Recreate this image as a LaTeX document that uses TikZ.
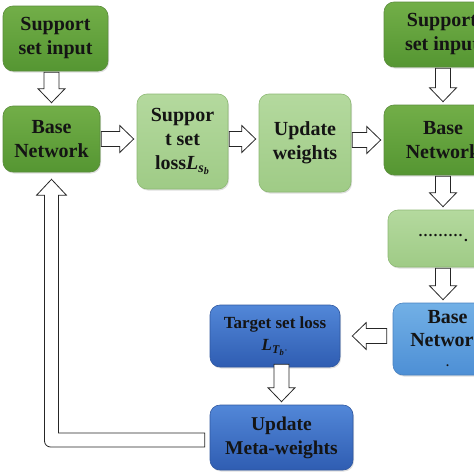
\documentclass[tikz,border=0pt]{standalone}
\usepackage{fontspec}
\setmainfont{Liberation Serif}
\usepackage{amsmath}
\usetikzlibrary{calc,shadows}
\definecolor{dgTop}{HTML}{72AE48}
\definecolor{dgBot}{HTML}{559632}
\definecolor{dgLine}{HTML}{5A8C3C}
\definecolor{lgTop}{HTML}{B4D99E}
\definecolor{lgBot}{HTML}{9FCB86}
\definecolor{lgLine}{HTML}{8DB874}
\definecolor{bTop}{HTML}{5287D8}
\definecolor{bBot}{HTML}{2F5DB2}
\definecolor{bLine}{HTML}{2F57A0}
\definecolor{lbTop}{HTML}{72B0E6}
\definecolor{lbBot}{HTML}{4D8FD5}
\definecolor{lbLine}{HTML}{4A82C0}
\newcommand{\bi}[1]{\textbf{\textit{#1}}}
\begin{document}
\begin{tikzpicture}[x=1pt,y=-1pt,
  box/.style={rectangle, rounded corners=10pt, inner sep=0pt, align=center,
    font=\fontsize{20}{24}\selectfont\bfseries, text=black!92, line width=0.6pt,
    drop shadow={shadow xshift=1pt, shadow yshift=-1.5pt, opacity=0.25}},
  dg/.style={box, top color=dgTop, bottom color=dgBot, draw=dgLine},
  lg/.style={box, top color=lgTop, bottom color=lgBot, draw=lgLine},
  bl/.style={box, top color=bTop, bottom color=bBot, draw=bLine},
  lb/.style={box, top color=lbTop, bottom color=lbBot, draw=lbLine},
  blockarrow/.style={draw=black!85, fill=white, line width=0.8pt, line join=miter,
    to path={let \p1=(\tikztostart), \p2=(\tikztotarget),
      \n1={veclen(\x2-\x1,\y2-\y1)}, \n2={(\x2-\x1)/\n1}, \n3={(\y2-\y1)/\n1} in
      ({\x1+1*\n2+7.5*\n3},{\y1+1*\n3-7.5*\n2})
      -- ({\x1+(\n1-17)*\n2+7.5*\n3},{\y1+(\n1-17)*\n3-7.5*\n2})
      -- ({\x1+(\n1-17)*\n2+13.5*\n3},{\y1+(\n1-17)*\n3-13.5*\n2})
      -- ({\x1+(\n1-3)*\n2},{\y1+(\n1-3)*\n3})
      -- ({\x1+(\n1-17)*\n2-13.5*\n3},{\y1+(\n1-17)*\n3+13.5*\n2})
      -- ({\x1+(\n1-17)*\n2-7.5*\n3},{\y1+(\n1-17)*\n3+7.5*\n2})
      -- ({\x1+1*\n2-7.5*\n3},{\y1+1*\n3+7.5*\n2}) -- cycle}}
]
\useasboundingbox (0,0) rectangle (474,474);
\clip (0,0) rectangle (474,474);

\node[dg, minimum width=105pt, minimum height=65pt] (sin1) at (55.5,38.5) {Support\\set input};
\node[dg, minimum width=97pt, minimum height=66pt] (base1) at (51.5,139) {Base\\Network};
\node[lg, minimum width=91pt, minimum height=95pt] (loss) at (182.5,141.5)
  {Suppor\\t set\\loss$\bi{L}_{\bi{s}_{\bi{b}}}$};
\node[lg, minimum width=92pt, minimum height=98pt] (upd) at (305,143) {Update\\weights};
\node[dg, minimum width=116pt, minimum height=65pt] (sin2) at (442,34.5) {Support\\set input};
\node[dg, minimum width=118pt, minimum height=70pt] (base2) at (443,140) {Base\\Network};
\node[lg, minimum width=110pt, minimum height=57pt, font=\fontsize{15}{18}\selectfont\bfseries] (dots) at (443,238.5)
  {·········\kern1pt\raisebox{-1pt}{.}};
\node[lb, minimum width=109pt, minimum height=72pt, font=\fontsize{20}{22.5}\selectfont\bfseries] (base3) at (447.5,339)
  {Base\\Network\\[-2pt]{\fontsize{12}{12}\selectfont .}};
\node[bl, minimum width=130pt, minimum height=62pt, font=\fontsize{17}{22}\selectfont\bfseries] (tloss) at (275,336)
  {Target set loss\\$\bi{L}_{\bi{T}_{\bi{b}}\cdot}$};
\node[bl, minimum width=143pt, minimum height=65pt, font=\fontsize{19.5}{24}\selectfont\bfseries] (meta) at (281.5,437.5)
  {Update\\Meta-weights};

\draw[blockarrow] (sin1.south -| base1.north) to (base1.north);
\draw[blockarrow] (base1.east) to (base1.east -| loss.west);
\draw[blockarrow] (loss.east |- base1.east) to (loss.east |- base1.east -| upd.west);
\draw[blockarrow] (upd.east |- base2.west) to (base2.west);
\draw[blockarrow] (sin2.south -| base2.north) to (base2.north);
\draw[blockarrow] (base2.south) to (base2.south |- dots.north);
\draw[blockarrow] (dots.south) to (dots.south |- base3.north);
\draw[blockarrow] ([xshift=-5pt]base3.west |- tloss.east) to ([xshift=9pt]tloss.east);
\draw[blockarrow] ([yshift=4pt]tloss.south -| meta.north) to (meta.north);

\draw[draw=black!85, fill=white, line width=0.8pt]
  let \p1=(meta.west), \p2=(base1.south) in
  (\x1-5pt,\y1+4.5pt) -- (\x2+7pt,\y1+4.5pt) -- (\x2+7pt,\y2-23pt)
  -- (\x2+15pt,\y2-23pt) -- (\x2,\y2-7pt) -- (\x2-15pt,\y2-23pt)
  -- (\x2-7pt,\y2-23pt) -- (\x2-7pt,\y1-3.5pt)
  arc[start angle=180, end angle=270, radius=6pt]
  -- (\x1-5pt,\y1-9.5pt) -- cycle;
\end{tikzpicture}
\end{document}
